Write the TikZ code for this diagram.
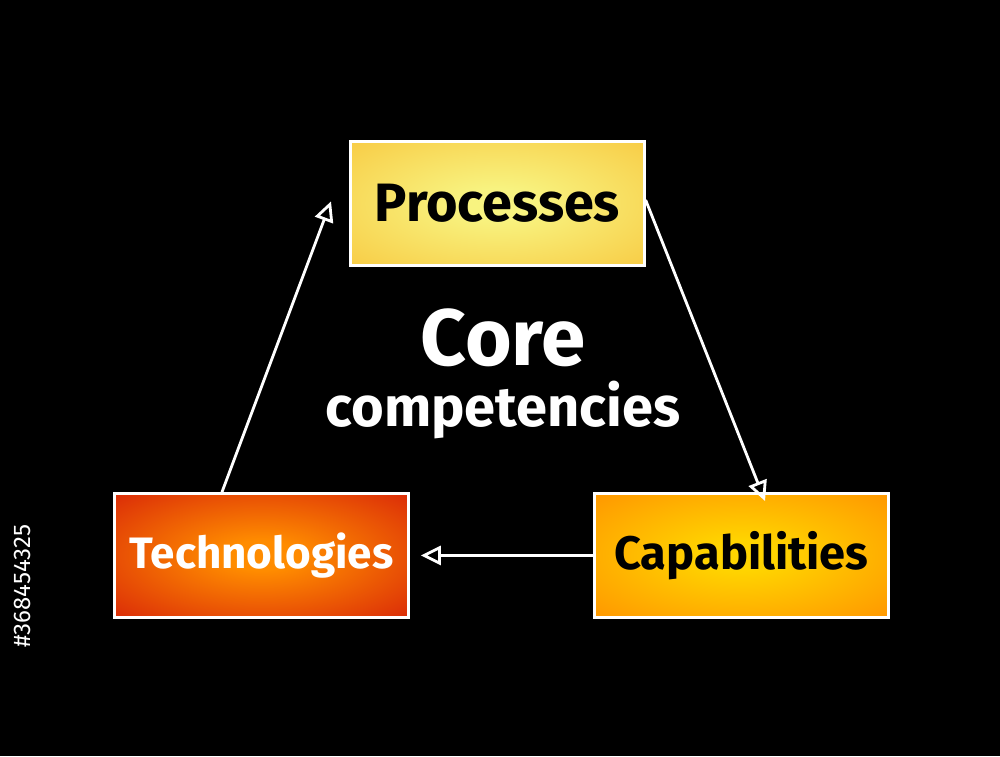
\documentclass[tikz,border=0pt]{standalone}
\usepackage{fontspec}
\setmainfont{Fira Sans}
\usetikzlibrary{arrows.meta}
\definecolor{procin}{HTML}{F8F380}
\definecolor{procout}{HTML}{F8CC45}
\definecolor{techin}{HTML}{FF8C00}
\definecolor{techout}{HTML}{DA2A08}
\definecolor{capin}{HTML}{FFD400}
\definecolor{capout}{HTML}{FF9600}
\pgfdeclareradialshading{procshade}{\pgfpoint{0bp}{0bp}}{color(0bp)=(procin); color(6bp)=(procin); color(36bp)=(procout); color(100bp)=(procout)}
\pgfdeclareradialshading{techshade}{\pgfpoint{0bp}{0bp}}{color(0bp)=(techin); color(6bp)=(techin); color(36bp)=(techout); color(100bp)=(techout)}
\pgfdeclareradialshading{capshade}{\pgfpoint{0bp}{0bp}}{color(0bp)=(capin); color(6bp)=(capin); color(36bp)=(capout); color(100bp)=(capout)}
\begin{document}
\begin{tikzpicture}[x=1pt,y=-1pt,
  box/.style={draw=white, line width=2.8pt, minimum width=294pt, minimum height=124pt,
    inner sep=0pt, anchor=north west},
  conn/.style={draw=white, line width=2.8pt, line cap=round,
    -{Triangle[open,length=20pt,width=19pt,line width=2.8pt]}},
  lbl/.style={font=\fontsize{#1}{#1}\selectfont\bfseries},
  center/.style={text=white, font=\fontsize{#1}{#1}\selectfont\bfseries, inner sep=0pt}]
\fill[black] (0,0) rectangle (1000,756);
\useasboundingbox (0,0) rectangle (1000,756);
\node[box, shading=procshade, lbl=54, text=black] (proc) at (349,140) {Processes};
\node[box, shading=techshade, lbl=44, text=white] (tech) at (113,492) {Technologies};
\node[box, shading=capshade, lbl=47, text=black] (cap) at (593,492) {Capabilities};
\node[center=80] (core) at (503,338) {Core};
\node[center=56] (comp) at (503,410) {competencies};
\node[rotate=90, text=white, font=\fontsize{24}{24}\selectfont, inner sep=0pt] (id) at (22,586) {\#368454325};
\draw[conn] ([xshift=109pt]tech.north west) -- ([xshift=-18pt,yshift=2pt]proc.west);
\draw[conn] ([yshift=3pt]proc.east) -- ([xshift=172pt,yshift=-9pt]cap.north west);
\draw[conn] (cap.west) -- ([xshift=11pt]tech.east);
\end{tikzpicture}
\end{document}
